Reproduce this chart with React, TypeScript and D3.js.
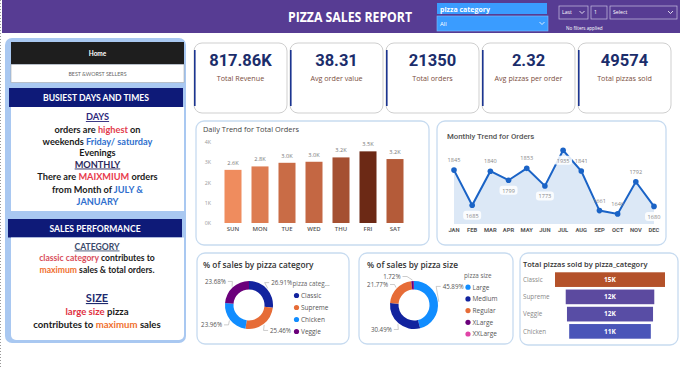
import * as d3 from "d3";

// header slicers
const slicerTitle = "pizza category";
const slicerValue = "All";

// KPI cards
const kpiValues = ["817.86K", "38.31", "21350", "2.32", "49574"];
const kpiLabels = ["Total Revenue", "Avg order value", "Total orders", "Avg pizzas per order", "Total pizzas sold"];

// daily trend
const days = ["SUN", "MON", "TUE", "WED", "THU", "FRI", "SAT"];
const dailyOrders = [2624, 2794, 2973, 3024, 3239, 3538, 3158];
const dailyTicks = [0, 1000, 2000, 3000, 4000];

// monthly trend
const months = ["JAN", "FEB", "MAR", "APR", "MAY", "JUN", "JUL", "AUG", "SEP", "OCT", "NOV", "DEC"];
const monthlyOrders = [1845, 1685, 1840, 1799, 1853, 1773, 1935, 1841, 1661, 1646, 1792, 1680];

// % of sales by category
const categories = ["Classic", "Supreme", "Chicken", "Veggie"];
const categoryPct = [26.91, 25.46, 23.96, 23.68];

// % of sales by size
const sizes = ["Large", "Medium", "Regular", "XLarge", "XXLarge"];
const sizePct = [45.89, 30.49, 21.77, 1.72, 0.12];

// total pizzas sold (funnel)
const funnelCats = ["Classic", "Supreme", "Veggie", "Chicken"];
const pizzasSold = [14888, 11987, 11649, 11050];

const FONT = "'Segoe UI','Open Sans',sans-serif";
const PANEL_FONT = "Lato,'Open Sans',sans-serif";
const NAVY = "#12239e";
const ORANGE = "#e66c37";
const SKY = "#118dff";
const PURPLE = "#6b007b";
const PINK = "#e044a7";

const catColors: Record<string, string> = { Classic: NAVY, Supreme: ORANGE, Chicken: SKY, Veggie: PURPLE };
const sizeColors: Record<string, string> = { Large: SKY, Medium: NAVY, Regular: ORANGE, XLarge: PURPLE, XXLarge: PINK };
const funnelColors: Record<string, string> = { Classic: "#b4522a", Supreme: "#5c4a9f", Veggie: "#584da5", Chicken: "#4a55b8" };

const fmtK = (v: number) => (v / 1000).toFixed(1) + "K";

function Card({ x, y, w, h }: { x: number; y: number; w: number; h: number }) {
  return <rect x={x} y={y} width={w} height={h} rx={8} fill="#fff" stroke="#c7dbf0" strokeWidth={1.3} />;
}

function Chevron({ x, y }: { x: number; y: number }) {
  return <path d={`M${x},${y} l2.5,2.5 l2.5,-2.5`} fill="none" stroke="#fff" strokeWidth={0.8} />;
}

function Donut({ labels, values, colors, cx, cy, R, r, legendTitle, legendX, legendY, legendStep, minY }: any) {
  const arcs = d3.pie<number>().sort(null).value((d) => d)(values);
  const arc = d3.arc<d3.PieArcDatum<number>>().innerRadius(r).outerRadius(R);
  const fs = 6.2;
  const maxRight = legendX - 5;

  // label placement: radial, then kept clear of the legend and of each other
  const lab = arcs
    .map((a, i) => {
      const mid = (a.startAngle + a.endAngle) / 2;
      const s = Math.sin(mid), c = Math.cos(mid);
      const side = s >= 0 ? 1 : -1;
      const txt = values[i].toFixed(2) + "%";
      const tw = txt.length * fs * 0.56;
      let ly = Math.max(minY, cy - c * (R + 8));
      return { i, mid, s, c, side, txt, tw, ly, lx: 0, show: values[i] >= 1 };
    })
    .filter((d) => d.show);

  for (const side of [-1, 1]) {
    const grp = lab.filter((d) => d.side === side).sort((a, b) => a.ly - b.ly);
    for (let k = 1; k < grp.length; k++) {
      if (grp[k].ly - grp[k - 1].ly < 8) grp[k].ly = grp[k - 1].ly + 8;
    }
  }
  for (const d of lab) {
    const dy = d.ly - cy;
    const half = Math.sqrt(Math.max(0, R * R - dy * dy));
    let off = Math.max(half + 13, Math.abs(d.s) * (R + 5) + 3);
    if (d.side > 0 && cx + off + d.tw > maxRight) {
      off = maxRight - d.tw - cx;
      const h2 = Math.max(0, off - 13);
      const need = Math.sqrt(Math.max(0, R * R - h2 * h2));
      if (Math.abs(dy) < need) d.ly = cy + (d.c >= 0 ? -need : need);
    }
    d.lx = cx + d.side * off;
  }

  return (
    <g>
      {arcs.map((a, i) => (
        <path key={i} d={arc(a) || ""} transform={`translate(${cx},${cy})`} fill={colors[labels[i]]} />
      ))}
      {lab.map((d) => {
        const px = cx + d.s * (R + 1), py = cy - d.c * (R + 1);
        const ex = d.lx - d.side * 6;
        return (
          <g key={"l" + d.i}>
            <polyline points={`${px},${py} ${ex},${d.ly} ${d.lx - d.side * 1.5},${d.ly}`} fill="none" stroke="#aaa" strokeWidth={0.6} />
            <text x={d.lx + d.side * 0.5} y={d.ly + 2.1} fontSize={fs} fill="#555" textAnchor={d.side > 0 ? "start" : "end"}>
              {d.txt}
            </text>
          </g>
        );
      })}
      <text x={legendX - 4} y={legendY} fontSize={6.3} fill="#666">{legendTitle}</text>
      {labels.map((l: string, i: number) => (
        <g key={"g" + i}>
          <circle cx={legendX} cy={legendY + legendStep * (i + 1) - 2} r={2.6} fill={colors[l]} />
          <text x={legendX + 4.5} y={legendY + legendStep * (i + 1) + 0.3} fontSize={6.5} fill="#555">{l}</text>
        </g>
      ))}
    </g>
  );
}

export default function App() {
  // daily
  const xDay = d3.scaleBand().domain(days).range([219.5, 408.5]).paddingInner(0.37).paddingOuter(0.185);
  const yDay = d3.scaleLinear().domain([0, 4000]).range([223, 142]);
  const dayColor = d3
    .scaleLinear<string>()
    .domain([d3.min(dailyOrders)!, 3150, d3.max(dailyOrders)!])
    .range(["#ef8c5e", "#b65c3a", "#6c2915"]);

  // monthly
  const xMon = d3.scalePoint().domain(months).range([454, 654]);
  const yMon = d3.scaleLinear().domain([1600, 1950]).range([224, 147]);
  const pts = months.map((m, i) => [xMon(m)!, yMon(monthlyOrders[i])] as [number, number]);
  const line = d3.line()(pts) || "";
  const area = d3.area().y0(yMon(1600)).y1((d) => d[1])(pts) || "";
  const below = new Set(["FEB", "APR", "JUN", "JUL", "DEC"]);

  // funnel
  const yFun = d3.scaleBand().domain(funnelCats).range([271, 340]).paddingInner(0.15).paddingOuter(0.075);
  const wFun = d3.scaleLinear().domain([0, d3.max(pizzasSold)!]).range([0, 110]);
  const funCx = 610;

  return (
    <svg width={680} height={369} style={{ position: "absolute", left: 0, top: 0, background: "#fff" }} fontFamily={FONT}>
      <line x1={0.5} y1={0} x2={0.5} y2={369} stroke="#999" strokeDasharray="1,2" />

      {/* header */}
      <rect x={2} y={0} width={678} height={33} fill="#573c93" />
      <text x={350} y={21.5} fontSize={14} fontWeight={700} fill="#fff" textAnchor="middle" textLength={124} lengthAdjust="spacingAndGlyphs">
        PIZZA SALES REPORT
      </text>
      <rect x={437} y={3} width={110} height={11} fill="#3a9cff" />
      <text x={440} y={11.5} fontSize={7} fontWeight={700} fill="#fff">{slicerTitle}</text>
      <rect x={437} y={16} width={111} height={15} fill="#3a9cff" stroke="#7fbfff" strokeWidth={0.6} />
      <text x={440} y={26} fontSize={6} fill="#fff">{slicerValue}</text>
      <Chevron x={539.5} y={22} />
      <rect x={559} y={6} width={29} height={13} fill="none" stroke="#c9c0e3" strokeWidth={0.7} />
      <text x={562} y={14.3} fontSize={5.2} fill="#fff">Last</text>
      <Chevron x={579.5} y={11} />
      <rect x={591} y={6} width={16} height={13} fill="none" stroke="#c9c0e3" strokeWidth={0.7} />
      <text x={594} y={14.3} fontSize={5.2} fill="#fff">1</text>
      <rect x={610} y={6} width={67} height={13} fill="none" stroke="#c9c0e3" strokeWidth={0.7} />
      <text x={613} y={14.3} fontSize={5.2} fill="#fff">Select</text>
      <Chevron x={668} y={11} />
      <text x={566} y={29.5} fontSize={4.6} fill="#fff">No filters applied</text>

      {/* left panel */}
      <g fontFamily={PANEL_FONT} fontWeight={700} textAnchor="middle">
        <rect x={5} y={38} width={181} height={305} rx={7} fill="#a9c8f1" />
        <rect x={11} y={42} width={173} height={22} fill="#1e1e1e" />
        <text x={97.5} y={55.5} fontSize={6.5} fill="#fff">Home</text>
        <rect x={11} y={64.5} width={173} height={18} fill="#fff" stroke="#999" strokeWidth={0.5} />
        <text x={97.5} y={75.5} fontSize={5.3} fontWeight={400} fill="#666">BEST &amp;WORST SELLERS</text>
        <rect x={9} y={88} width={174} height={19} fill="#0e1a78" />
        <text x={96} y={100.8} fontSize={8.6} fill="#fff">BUSIEST DAYS AND TIMES</text>
        <rect x={11} y={107} width={173} height={104} fill="#fff" />
        <g fontSize={9.2} fill="#1a1a1a">
          <text x={97.5} y={120} fill="#2d2a7c" textDecoration="underline">DAYS</text>
          <text x={97.5} y={132.5}>orders are <tspan fill="#e23b4c">highest</tspan> on</text>
          <text x={97.5} y={145}>weekends <tspan fill="#2f6fce">Friday/ saturday</tspan></text>
          <text x={97.5} y={156}>Evenings</text>
          <text x={97.5} y={167.5} fill="#2d2a5c" textDecoration="underline">MONTHLY</text>
          <text x={97.5} y={180}>There are <tspan fill="#e83a4c">MAIXMIUM</tspan> orders</text>
          <text x={97.5} y={192.5}>from Month of <tspan fill="#2f6fce">JULY &amp;</tspan></text>
          <text x={97.5} y={204.5} fill="#2f6fce">JANUARY</text>
        </g>
        <rect x={8} y={219} width={174} height={18.5} fill="#0e1a78" />
        <text x={95} y={231.6} fontSize={8.6} fill="#fff">SALES PERFORMANCE</text>
        <path d="M11,237.5 H184 V335 a5,5 0 0 1 -5,5 H16 a5,5 0 0 1 -5,-5 Z" fill="#fff" />
        <g fontSize={8.6} fill="#1a1a1a">
          <text x={97} y={249.5} fill="#3b4a6b" textDecoration="underline">CATEGORY</text>
          <text x={97} y={261}><tspan fill="#d94f5c">classic category</tspan> contributes to</text>
          <text x={97} y={272.5}><tspan fill="#f0702e">maximum</tspan> sales &amp; total orders.</text>
          <text x={97} y={302} fontSize={11} fill="#1e2a6e" textDecoration="underline">SIZE</text>
          <text x={97} y={315} fontSize={9.6}><tspan fill="#e0303f">large size</tspan> pizza</text>
          <text x={97} y={327.5} fontSize={9.6}>contributes to <tspan fill="#f0702e">maximum</tspan> sales</text>
        </g>
      </g>

      {/* KPI cards */}
      {kpiValues.map((v, i) => {
        const x = 194 + i * 96;
        return (
          <g key={i}>
            <rect x={x} y={43} width={93} height={70} rx={8} fill="#fff" stroke="#cfcfcf" strokeWidth={1} />
            <line x1={x + 0.8} y1={50} x2={x + 0.8} y2={106} stroke="#1c3590" strokeWidth={1.6} />
            <text x={x + 46.5} y={66} fontFamily="Roboto,sans-serif" fontWeight={700} fontSize={16.5} fill="#1b2d6b" textAnchor="middle">{v}</text>
            <text x={x + 46.5} y={80.5} fontSize={7.2} fill="#7b4e40" textAnchor="middle">{kpiLabels[i]}</text>
          </g>
        );
      })}

      {/* daily trend */}
      <Card x={196} y={121} w={233} h={124} />
      <text x={203} y={131.5} fontSize={7.4} fill="#444">Daily Trend for Total Orders</text>
      {dailyTicks.map((t) => (
        <text key={t} x={211} y={yDay(t) + 2} fontSize={5.3} fill="#999" textAnchor="end">{t / 1000}K</text>
      ))}
      {days.map((d, i) => (
        <g key={d}>
          <rect x={xDay(d)} y={yDay(dailyOrders[i])} width={xDay.bandwidth()} height={yDay(0) - yDay(dailyOrders[i])} fill={dayColor(dailyOrders[i])} />
          <text x={xDay(d)! + xDay.bandwidth() / 2} y={yDay(dailyOrders[i]) - 5} fontSize={5.6} fill="#777" textAnchor="middle">{fmtK(dailyOrders[i])}</text>
          <text x={xDay(d)! + xDay.bandwidth() / 2} y={231} fontSize={6} fontWeight={600} fill="#555" textAnchor="middle">{d}</text>
        </g>
      ))}

      {/* monthly trend */}
      <Card x={437} y={121} w={229} h={124} />
      <text x={447} y={139} fontFamily="Roboto,sans-serif" fontWeight={500} fontSize={7.8} fill="#555">Monthly Trend for Orders</text>
      <path d={area} fill="#dce8f6" />
      <path d={line} fill="none" stroke="#1a63c6" strokeWidth={2} />
      {pts.map((p, i) => {
        const b = below.has(months[i]);
        return (
          <g key={months[i]}>
            <circle cx={p[0]} cy={p[1]} r={2.8} fill="#1a63c6" />
            {b && <rect x={p[0] - 9} y={p[1] + 5.5} width={18} height={9} rx={3} fill="#fff" opacity={0.85} />}
            <text x={p[0]} y={b ? p[1] + 12.5 : p[1] - 8} fontSize={5.6} fill="#888" textAnchor="middle">{monthlyOrders[i]}</text>
            <text x={p[0]} y={231.5} fontFamily="Roboto,sans-serif" fontSize={5.8} fontWeight={700} fill="#555" textAnchor="middle">{months[i]}</text>
          </g>
        );
      })}

      {/* % of sales by pizza category */}
      <Card x={197} y={253} w={152} h={91} />
      <text x={203} y={268} fontSize={8.3} fontWeight={600} fill="#333">% of sales by pizza category</text>
      <Donut labels={categories} values={categoryPct} colors={catColors} cx={249} cy={305} R={24} r={15.5}
        legendTitle="pizza categ..." legendX={296.5} legendY={285.5} legendStep={12} minY={277} />

      {/* % of sales by pizza size */}
      <Card x={359} y={253} w={154} h={91} />
      <text x={367} y={268} fontSize={8.3} fontWeight={600} fill="#333">% of sales by pizza size</text>
      <Donut labels={sizes} values={sizePct} colors={sizeColors} cx={414} cy={305} R={24} r={15.5}
        legendTitle="pizza size" legendX={468} legendY={277.5} legendStep={11.7} minY={276.5} />

      {/* total pizzas sold by category */}
      <Card x={520} y={253} w={158} h={92} />
      <text x={523} y={266.5} fontSize={7.5} fontWeight={600} fill="#333">Total pizzas sold by pizza_category</text>
      {funnelCats.map((c, i) => {
        const w = wFun(pizzasSold[i]);
        const y = yFun(c)!;
        return (
          <g key={c}>
            <text x={523} y={y + yFun.bandwidth() / 2 + 2.2} fontSize={6.3} fill="#8a8a8a">{c}</text>
            <rect x={funCx - w / 2} y={y} width={w} height={yFun.bandwidth()} fill={funnelColors[c]} />
            <text x={funCx} y={y + yFun.bandwidth() / 2 + 2.3} fontSize={6.5} fontWeight={700} fill="#fff" textAnchor="middle">
              {Math.round(pizzasSold[i] / 1000)}K
            </text>
          </g>
        );
      })}
    </svg>
  );
}
